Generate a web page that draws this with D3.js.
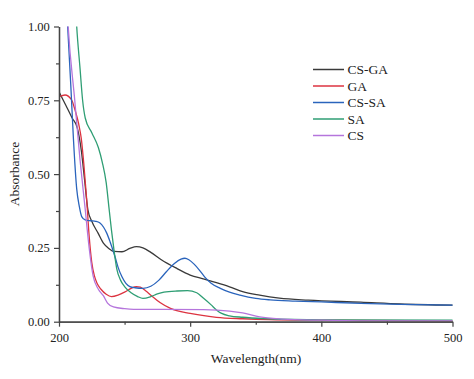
<!DOCTYPE html>
<html><head><meta charset="utf-8">
<script src="https://cdn.jsdelivr.net/npm/d3@7"></script>
<style>body{margin:0;background:#fff}svg{display:block}</style>
</head><body><svg id="c" width="474" height="379"></svg>
<script>
const seriesNames = ["CS-GA","GA","CS-SA","SA","CS"];
const seriesColors = ["#3a3a3a","#dc3340","#2a64bc","#2f9e74","#b575dc"];
const xTicks = [200,300,400,500];
const yTicks = [0,0.25,0.5,0.75,1.0];

const csga = [[200,0.779],[205,0.735],[210,0.69],[214,0.656],[217,0.58],[219.5,0.48],[222,0.38],[225,0.34],[229.8,0.30],[234,0.265],[238,0.248],[242,0.238],[248,0.237],[254,0.248],[259,0.254],[264,0.25],[270,0.235],[278,0.21],[290,0.18],[300,0.158],[310,0.145],[320,0.132],[330,0.118],[340,0.102],[353,0.09],[368,0.08],[390,0.073],[430,0.066],[460,0.06],[500,0.056]];
const ga = [[200,0.762],[204.6,0.768],[209.7,0.751],[212,0.72],[215,0.67],[217,0.62],[219,0.53],[221,0.42],[223,0.29],[225,0.2],[227,0.155],[229,0.13],[232,0.11],[236,0.093],[240,0.085],[245,0.09],[250,0.10],[255,0.113],[259,0.119],[262,0.117],[266,0.105],[270,0.09],[277,0.065],[285,0.045],[300,0.028],[320,0.015],[340,0.01],[360,0.007],[400,0.005],[500,0.003]];
const cssa = [[205.5,1.08],[206.6,1.0],[209,0.8],[211,0.62],[213.5,0.45],[215.5,0.39],[217.3,0.356],[220,0.345],[224,0.342],[228,0.34],[231,0.335],[234,0.32],[236.4,0.30],[239,0.27],[242.7,0.22],[245,0.185],[248,0.152],[251,0.13],[254,0.119],[258,0.115],[264,0.113],[270,0.12],[276,0.14],[282,0.17],[288,0.197],[293,0.212],[296,0.215],[299,0.21],[303,0.195],[307,0.175],[311,0.152],[316,0.13],[323,0.113],[330,0.10],[338,0.09],[350,0.079],[361,0.074],[380,0.07],[400,0.067],[430,0.062],[460,0.059],[500,0.056]];
const sa = [[212.5,1.08],[213.5,1.0],[216,0.86],[218,0.75],[220,0.69],[225,0.64],[230,0.59],[233,0.54],[236,0.47],[238,0.39],[240,0.31],[242,0.24],[244,0.18],[247,0.14],[250,0.119],[255,0.098],[260,0.085],[264,0.079],[270,0.085],[275,0.094],[280,0.10],[290,0.104],[298,0.105],[305,0.098],[310,0.08],[316,0.057],[320,0.04],[324,0.028],[330,0.02],[340,0.015],[360,0.01],[400,0.006],[500,0.005]];
const cs = [[206,1.08],[207,1.0],[212,0.75],[216,0.55],[220,0.38],[223,0.25],[226,0.155],[230,0.11],[233.8,0.088],[237,0.063],[241.5,0.05],[250,0.044],[257,0.042],[280,0.042],[310,0.041],[330,0.036],[340,0.03],[353,0.016],[370,0.009],[400,0.005],[430,0.003],[500,0.003]];
const seriesData = [csga, ga, cssa, sa, cs];

const svg = d3.select("#c");
const x = d3.scaleLinear().domain([200,500]).range([59,452.5]);
const y = d3.scaleLinear().domain([0,1]).range([321.7,26.5]);
const font = "'Liberation Serif','Times New Roman',serif";

svg.append("defs").append("clipPath").attr("id","clip")
  .append("rect").attr("x",59).attr("y",26.5).attr("width",394).attr("height",295.2);

const line = d3.line().x(d=>x(d[0])).y(d=>y(d[1])).curve(d3.curveMonotoneX);
const g = svg.append("g").attr("clip-path","url(#clip)");
seriesData.forEach((d,i)=>{
  g.append("path").attr("d",line(d)).attr("fill","none")
   .attr("stroke",seriesColors[i]).attr("stroke-width",1.3);
});

// axes
const axisColor = "#444";
const xAxis = svg.append("g").attr("transform","translate(0,321.7)")
  .call(d3.axisBottom(x).tickValues(xTicks).tickFormat(d3.format("d")).tickSize(5).tickSizeOuter(0));
const xMinor = svg.append("g").attr("transform","translate(0,321.7)")
  .call(d3.axisBottom(x).tickValues([250,350,450]).tickFormat("").tickSize(3).tickSizeOuter(0));
const yAxis = svg.append("g").attr("transform","translate(59,0)")
  .call(d3.axisLeft(y).tickValues(yTicks).tickFormat(d3.format(".2f")).tickSize(5).tickSizeOuter(0));
const yMinor = svg.append("g").attr("transform","translate(59,0)")
  .call(d3.axisLeft(y).tickValues([0.125,0.375,0.625,0.875]).tickFormat("").tickSize(3).tickSizeOuter(0));
[xAxis,xMinor,yAxis,yMinor].forEach(a=>{
  a.select(".domain").attr("stroke",axisColor).attr("stroke-width",1.3);
  a.selectAll(".tick line").attr("stroke",axisColor).attr("stroke-width",1.2);
  a.selectAll("text").attr("font-family",font).attr("font-size",12.5).attr("fill","#222");
});
xAxis.selectAll("text").attr("dy","0.95em");
yAxis.selectAll("text").attr("dx","-0.1em");

svg.append("text").attr("x",256).attr("y",363).attr("text-anchor","middle")
  .attr("font-family",font).attr("font-size",13.5).attr("fill","#222").text("Wavelength(nm)");
svg.append("text").attr("transform","translate(19,174) rotate(-90)").attr("text-anchor","middle")
  .attr("font-family",font).attr("font-size",13.5).attr("fill","#222").text("Absorbance");

// legend
seriesNames.forEach((n,i)=>{
  const yy = 69.5 + i*16.5;
  svg.append("line").attr("x1",313).attr("x2",344).attr("y1",yy).attr("y2",yy)
    .attr("stroke",seriesColors[i]).attr("stroke-width",1.5);
  svg.append("text").attr("x",347.5).attr("y",yy+4.5).attr("font-family",font)
    .attr("font-size",13.5).attr("fill","#222").text(n);
});
</script></body></html>
